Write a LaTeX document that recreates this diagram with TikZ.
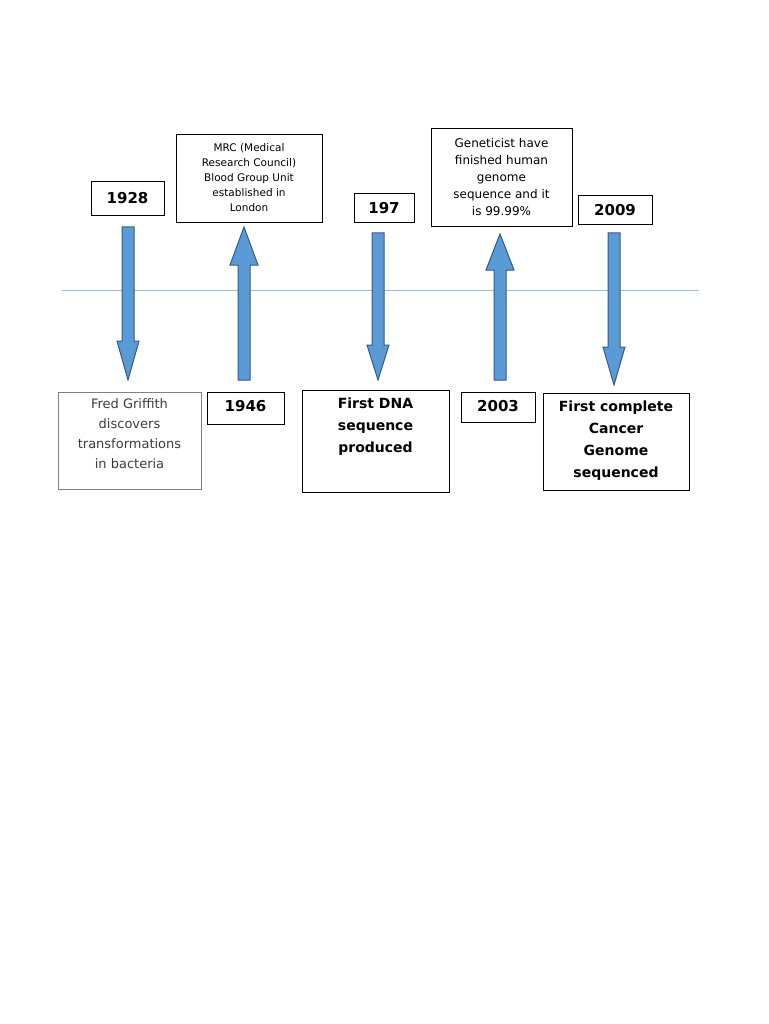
\documentclass[tikz,border=0pt]{standalone}
\usepackage{fontspec}
\setmainfont{DejaVu Sans}
\definecolor{lineblue}{RGB}{150,190,225}
\definecolor{arrowfill}{RGB}{91,155,213}
\definecolor{arrowedge}{RGB}{50,90,140}
\definecolor{fredtext}{RGB}{60,60,60}
\tikzset{
  yearbox/.style={font=\bfseries\fontsize{15}{18}\selectfont},
  notebox/.style={align=center, font=\fontsize{10.5}{15}\selectfont},
  eventbox/.style={align=center, font=\bfseries\fontsize{14}{22}\selectfont},
  blockarrow/.style={fill=arrowfill, draw=arrowedge, line width=1pt}
}
\newcommand{\downblock}[4]{% x, top, headstart, tip
  \draw[blockarrow] (#1-6,#2) -- (#1+6,#2) -- (#1+6,#3) -- (#1+11,#3) -- (#1,#4)
    -- (#1-11,#3) -- (#1-6,#3) -- cycle;}
\newcommand{\upblock}[4]{% x, bottom, headstart, tip
  \draw[blockarrow] (#1-6,#2) -- (#1+6,#2) -- (#1+6,#3) -- (#1+14,#3) -- (#1,#4)
    -- (#1-14,#3) -- (#1-6,#3) -- cycle;}
\begin{document}
\begin{tikzpicture}[x=1pt, y=-1pt]
  \useasboundingbox (0,0) rectangle (768,1024);
  % time line
  \draw[lineblue, line width=0.8pt] (62,290) -- (699,290);

  % boxes above the line
  \draw (91,181) rectangle (164,215);
  \node[yearbox] (y1928) at (127.5,198) {1928};
  \draw (176,134) rectangle (322,222);
  \node[notebox] (mrc) at (249,178) {MRC (Medical\\Research Council)\\Blood Group Unit\\established in\\London};
  \draw (354,193) rectangle (414,222);
  \node[yearbox] (y197) at (384,208) {197};
  \draw (431,128) rectangle (572,226);
  \node[notebox, font=\fontsize{12}{17}\selectfont] (gene) at (501.5,177) {Geneticist have\\finished human\\genome\\sequence and it\\is 99.99\%};
  \draw (578,195) rectangle (652,224);
  \node[yearbox] (y2009) at (615,210) {2009};

  % boxes below the line
  \draw[gray] (58,392) rectangle (201,489);
  \node[align=center, font=\fontsize{13}{20}\selectfont, text=fredtext] (fred) at (129.5,434) {Fred Griffith\\discovers\\transformations\\in bacteria};
  \draw (207,392) rectangle (284,424);
  \node[yearbox] (y1946) at (245.5,406) {1946};
  \draw (302,390) rectangle (449,492);
  \node[eventbox] (dna) at (375.5,427) {First DNA\\sequence\\produced};
  \draw (461,392) rectangle (535,422);
  \node[yearbox] (y2003) at (498,406) {2003};
  \draw (543,393) rectangle (689,490);
  \node[eventbox] (cancer) at (616,441) {First complete\\Cancer\\Genome\\sequenced};

  % arrows
  \downblock{128}{227}{341}{380}
  \upblock{244}{380}{265}{227}
  \downblock{378}{233}{345}{380}
  \upblock{500}{380}{270}{234}
  \downblock{614}{233}{347}{385}
\end{tikzpicture}
\end{document}
